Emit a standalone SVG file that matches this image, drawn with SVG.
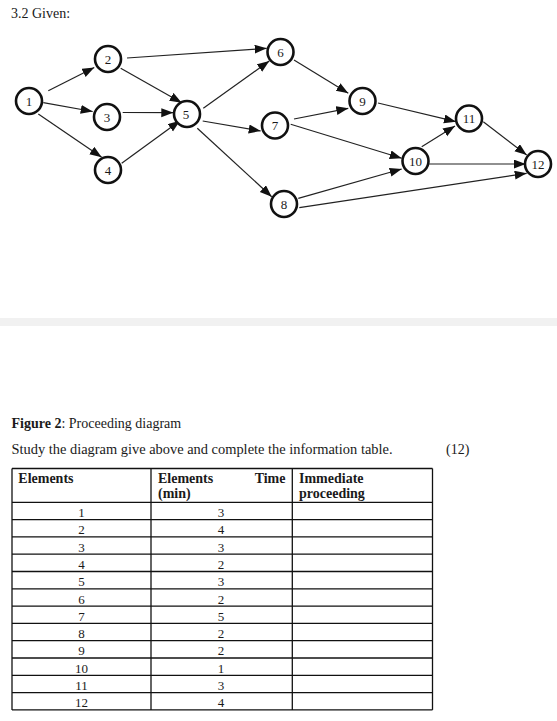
<svg xmlns="http://www.w3.org/2000/svg" width="557" height="721" viewBox="0 0 557 721">
<style>
text{font-family:"Liberation Serif","Times New Roman",serif;fill:#1a1a1a}
.node circle{fill:#fff;stroke:#111;stroke-width:2.6}
.node text{font-size:13px;text-anchor:middle}
.edges line{stroke:#222;stroke-width:1.2}
.t{font-size:14px}
.b{font-weight:bold}
.grid line{stroke:#111;stroke-width:1.3}
.cell{font-size:13px;text-anchor:middle}
</style>
<defs>
<marker id="ah" markerUnits="userSpaceOnUse" markerWidth="12" markerHeight="10" refX="12" refY="4.5" orient="auto">
<path d="M0,0 L12,4.5 L0,9 z" fill="#111"/>
</marker>
</defs>
<rect width="557" height="721" fill="#fff"/>
<text class="t" x="11" y="17.5">3.2 Given:</text>

<g class="edges" marker-end="url(#ah)">
<line x1="48.3" y1="90.7" x2="94.3" y2="67.5" marker-end="url(#ah)"/>
<line x1="43.3" y1="102.7" x2="92.7" y2="111.5" marker-end="url(#ah)"/>
<line x1="38.3" y1="114" x2="101.7" y2="157.3" marker-end="url(#ah)"/>
<line x1="120.7" y1="68.3" x2="181.7" y2="102.7" marker-end="url(#ah)"/>
<line x1="122.7" y1="112.5" x2="173.3" y2="112.7" marker-end="url(#ah)"/>
<line x1="121.7" y1="163.3" x2="180" y2="120.7" marker-end="url(#ah)"/>
<line x1="127" y1="58" x2="266.7" y2="48.3" marker-end="url(#ah)"/>
<line x1="203.3" y1="108.3" x2="269.3" y2="61" marker-end="url(#ah)"/>
<line x1="202.7" y1="121" x2="260.7" y2="131" marker-end="url(#ah)"/>
<line x1="197.3" y1="128.3" x2="271.7" y2="196.7" marker-end="url(#ah)"/>
<line x1="294" y1="60" x2="348.3" y2="93.3" marker-end="url(#ah)"/>
<line x1="294" y1="119" x2="348.3" y2="108.3" marker-end="url(#ah)"/>
<line x1="290.7" y1="124.3" x2="401.7" y2="158.3" marker-end="url(#ah)"/>
<line x1="298.3" y1="198.3" x2="401.7" y2="169" marker-end="url(#ah)"/>
<line x1="299.3" y1="207.7" x2="526.7" y2="173.3" marker-end="url(#ah)"/>
<line x1="378" y1="103" x2="456" y2="121.7" marker-end="url(#ah)"/>
<line x1="421.7" y1="146.7" x2="455" y2="126" marker-end="url(#ah)"/>
<line x1="429.3" y1="164" x2="525.7" y2="164" marker-end="url(#ah)"/>
<line x1="483.3" y1="121.7" x2="526.7" y2="155" marker-end="url(#ah)"/>
</g>

<g id="n1" class="node"><circle cx="29" cy="101" r="13"/><text x="29" y="105.5">1</text></g>
<g id="n2" class="node"><circle cx="108" cy="59" r="13"/><text x="108" y="63.5">2</text></g>
<g id="n3" class="node"><circle cx="107" cy="117" r="13"/><text x="107" y="121.5">3</text></g>
<g id="n4" class="node"><circle cx="108" cy="170" r="13"/><text x="108" y="174.5">4</text></g>
<g id="n5" class="node"><circle cx="187" cy="114" r="13"/><text x="186" y="118.5">5</text></g>
<g id="n6" class="node"><circle cx="280.5" cy="52" r="13"/><text x="280.5" y="56.5">6</text></g>
<g id="n7" class="node"><circle cx="275" cy="125.5" r="13"/><text x="275" y="130">7</text></g>
<g id="n8" class="node"><circle cx="284" cy="204" r="13"/><text x="284" y="208.5">8</text></g>
<g id="n9" class="node"><circle cx="362.5" cy="101" r="13"/><text x="362.5" y="105.5">9</text></g>
<g id="n10" class="node"><circle cx="415.5" cy="161" r="13"/><text x="415.5" y="165.5">10</text></g>
<g id="n11" class="node"><circle cx="469" cy="118.5" r="13"/><text x="469" y="123">11</text></g>
<g id="n12" class="node"><circle cx="538" cy="164" r="13"/><text x="538" y="168.5">12</text></g>

<rect x="0" y="318" width="557" height="8" fill="#f1f1f1"/>

<text class="t" x="11.5" y="427.7"><tspan class="b">Figure 2</tspan>: Proceeding diagram</text>
<text class="t" x="11.5" y="454" textLength="381" lengthAdjust="spacingAndGlyphs">Study the diagram give above and complete the information table.</text>
<text class="t" x="446" y="454">(12)</text>

<g id="table">
<g class="grid">
<line x1="12" y1="468.5" x2="432.5" y2="468.5"/>
<line x1="12" y1="502.3" x2="432.5" y2="502.3"/>
<line x1="12" y1="519.6" x2="432.5" y2="519.6"/>
<line x1="12" y1="536.9" x2="432.5" y2="536.9"/>
<line x1="12" y1="554.2" x2="432.5" y2="554.2"/>
<line x1="12" y1="571.5" x2="432.5" y2="571.5"/>
<line x1="12" y1="588.8" x2="432.5" y2="588.8"/>
<line x1="12" y1="606.1" x2="432.5" y2="606.1"/>
<line x1="12" y1="623.4" x2="432.5" y2="623.4"/>
<line x1="12" y1="640.7" x2="432.5" y2="640.7"/>
<line x1="12" y1="658" x2="432.5" y2="658"/>
<line x1="12" y1="675.3" x2="432.5" y2="675.3"/>
<line x1="12" y1="692.6" x2="432.5" y2="692.6"/>
<line x1="12" y1="709.9" x2="432.5" y2="709.9"/>
<line x1="12" y1="468.5" x2="12" y2="709.9"/>
<line x1="151" y1="468.5" x2="151" y2="709.9"/>
<line x1="292.3" y1="468.5" x2="292.3" y2="709.9"/>
<line x1="432.5" y1="468.5" x2="432.5" y2="709.9"/>
</g>
<text class="t b" x="18.3" y="482.5">Elements</text>
<text class="t b" x="158" y="482.5">Elements</text>
<text class="t b" x="285.5" y="482.5" text-anchor="end">Time</text>
<text class="t b" x="158" y="498">(min)</text>
<text class="t b" x="299" y="482.5">Immediate</text>
<text class="t b" x="299" y="498">proceeding</text>
<g class="cell">
<text x="81.5" y="517">1</text><text x="221" y="517">3</text>
<text x="81.5" y="534.3">2</text><text x="221" y="534.3">4</text>
<text x="81.5" y="551.6">3</text><text x="221" y="551.6">3</text>
<text x="81.5" y="568.9">4</text><text x="221" y="568.9">2</text>
<text x="81.5" y="586.2">5</text><text x="221" y="586.2">3</text>
<text x="81.5" y="603.5">6</text><text x="221" y="603.5">2</text>
<text x="81.5" y="620.8">7</text><text x="221" y="620.8">5</text>
<text x="81.5" y="638.1">8</text><text x="221" y="638.1">2</text>
<text x="81.5" y="655.4">9</text><text x="221" y="655.4">2</text>
<text x="81.5" y="672.7">10</text><text x="221" y="672.7">1</text>
<text x="81.5" y="690">11</text><text x="221" y="690">3</text>
<text x="81.5" y="707.3">12</text><text x="221" y="707.3">4</text>
</g>
</g>
</svg>
